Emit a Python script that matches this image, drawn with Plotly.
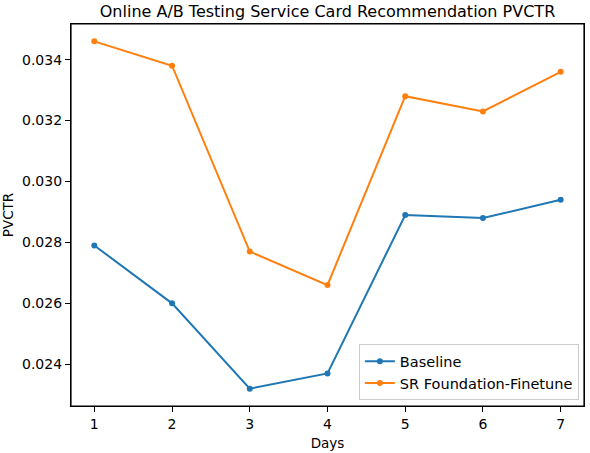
import plotly.graph_objects as go

days = [1, 2, 3, 4, 5, 6, 7]
baseline = [0.0279, 0.0260, 0.0232, 0.0237, 0.0289, 0.0288, 0.0294]
sr_finetune = [0.0346, 0.0338, 0.0277, 0.0266, 0.0328, 0.0323, 0.0336]
y_ticks = [0.024, 0.026, 0.028, 0.030, 0.032, 0.034]

fig = go.Figure()
fig.add_trace(go.Scatter(
    x=days, y=baseline, mode="lines+markers", name="Baseline",
    line=dict(color="#1f77b4", width=2), marker=dict(size=6, color="#1f77b4"),
))
fig.add_trace(go.Scatter(
    x=days, y=sr_finetune, mode="lines+markers", name="SR Foundation-Finetune",
    line=dict(color="#ff7f0e", width=2), marker=dict(size=6, color="#ff7f0e"),
))

axis_style = dict(
    showline=True, linecolor="black", linewidth=1.2, mirror=True,
    ticks="outside", ticklen=5, tickcolor="black", showgrid=False, zeroline=False,
    tickfont=dict(size=14, color="black"),
)
fig.update_xaxes(
    range=[0.7, 7.3], tickvals=days,
    title=dict(text="Days", font=dict(size=13.5, color="black"), standoff=7),
    **axis_style,
)
fig.update_yaxes(
    range=[0.02263, 0.03517], tickvals=y_ticks, tickformat=".3f",
    title=dict(text="PVCTR", font=dict(size=13.5, color="black"), standoff=5),
    **axis_style,
)

# full frame round the plot area, like matplotlib's spines
fig.add_shape(type="rect", xref="paper", yref="paper", x0=0, y0=0, x1=1, y1=1,
              line=dict(color="black", width=1.2), layer="above")

fig.update_layout(
    width=590, height=453,
    margin=dict(l=71, r=5, t=24, b=45),
    paper_bgcolor="white", plot_bgcolor="white",
    font=dict(family="DejaVu Sans", color="black"),
    title=dict(text="Online A/B Testing Service Card Recommendation PVCTR",
               x=0.5, xref="paper", xanchor="center", y=0.975, yanchor="middle",
               font=dict(size=16, color="black")),
    legend=dict(
        x=0.99, y=0.015, xanchor="right", yanchor="bottom",
        bordercolor="#cccccc", borderwidth=1, bgcolor="rgba(255,255,255,0.8)",
        font=dict(size=14.5, color="black"), tracegroupgap=0,
    ),
)

fig.write_html("out.html", config={"displayModeBar": False},
               post_script="document.body.style.margin='0';")
